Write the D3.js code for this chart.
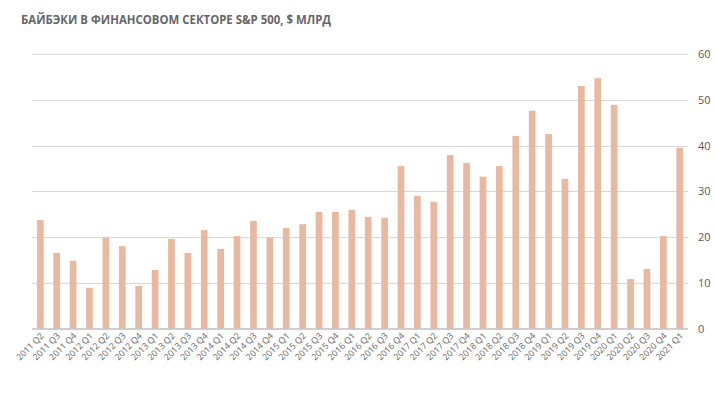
<!DOCTYPE html>
<html><head><meta charset="utf-8">
<script src="https://cdn.jsdelivr.net/npm/d3@7"></script>
<style>body{margin:0;background:#fff;}svg{display:block;}</style>
</head><body>
<svg id="c" width="715" height="393"></svg>
<script>
const categories = ["2011 Q2","2011 Q3","2011 Q4","2012 Q1","2012 Q2","2012 Q3","2012 Q4","2013 Q1","2013 Q2","2013 Q3","2013 Q4","2014 Q1","2014 Q2","2014 Q3","2014 Q4","2015 Q1","2015 Q2","2015 Q3","2015 Q4","2016 Q1","2016 Q2","2016 Q3","2016 Q4","2017 Q1","2017 Q2","2017 Q3","2017 Q4","2018 Q1","2018 Q2","2018 Q3","2018 Q4","2019 Q1","2019 Q2","2019 Q3","2019 Q4","2020 Q1","2020 Q2","2020 Q3","2020 Q4","2021 Q1"];
const values = [23.7,16.5,14.8,8.9,19.9,18.0,9.3,12.8,19.6,16.5,21.5,17.4,20.2,23.5,19.9,22.0,22.8,25.5,25.5,25.9,24.4,24.2,35.5,29.0,27.7,37.9,36.2,33.2,35.5,42.1,47.6,42.5,32.7,53.0,54.7,48.9,10.8,13.0,20.2,39.5];
const yTicks = [0,10,20,30,40,50,60];
const title = "БАЙБЭКИ В ФИНАНСОВОМ СЕКТОРЕ S&P 500, $ МЛРД";

(function () {
const svg = d3.select("#c");
const mLeft = 32, mRight = 688, mTop = 54, mBottom = 328.5;
const x = d3.scaleBand().domain(categories).range([mLeft, mRight]).paddingInner(0.59).paddingOuter(0.3);
const y = d3.scaleLinear().domain([0, 60]).range([mBottom, mTop]);

svg.append("text").attr("x", 21).attr("y", 24)
  .attr("font-family", "Open Sans, sans-serif").attr("font-weight", "bold")
  .attr("font-size", 12.5).attr("fill", "#666")
  .attr("textLength", 310).attr("lengthAdjust", "spacingAndGlyphs")
  .text(title);

const grid = svg.append("g");
grid.selectAll("line").data(yTicks.filter(d => d > 0)).join("line")
  .attr("x1", mLeft).attr("x2", mRight)
  .attr("y1", d => Math.round(y(d)) + 0.5).attr("y2", d => Math.round(y(d)) + 0.5)
  .attr("stroke", "#d9d9d9").attr("stroke-width", 1);

const yAxis = d3.axisRight(y).tickValues(yTicks).tickSize(0).tickPadding(10);
const ya = svg.append("g").attr("transform", `translate(${mRight},0)`).call(yAxis);
ya.select(".domain").remove();
ya.selectAll("text").attr("font-family", "Open Sans, sans-serif").attr("font-size", 11).attr("fill", "#595959");

svg.append("g").selectAll("rect").data(values).join("rect")
  .attr("x", (d, i) => x(categories[i]))
  .attr("width", x.bandwidth())
  .attr("y", d => y(d))
  .attr("height", d => y(0) - y(d))
  .attr("fill", "#e8b9a0");

svg.append("line").attr("x1", mLeft).attr("x2", mRight)
  .attr("y1", mBottom + 0.5).attr("y2", mBottom + 0.5)
  .attr("stroke", "#bfbfbf").attr("stroke-width", 1.5);

const xAxis = d3.axisBottom(x).tickSize(0).tickPadding(0);
const xa = svg.append("g").attr("transform", `translate(0,${mBottom})`).call(xAxis);
xa.select(".domain").remove();
xa.selectAll("text")
  .attr("font-family", "Open Sans, sans-serif").attr("font-size", 8.8).attr("fill", "#666")
  .attr("text-anchor", "end").attr("dy", 0)
  .attr("transform", "translate(4,8) rotate(-45)");
})();
</script>
</body></html>
